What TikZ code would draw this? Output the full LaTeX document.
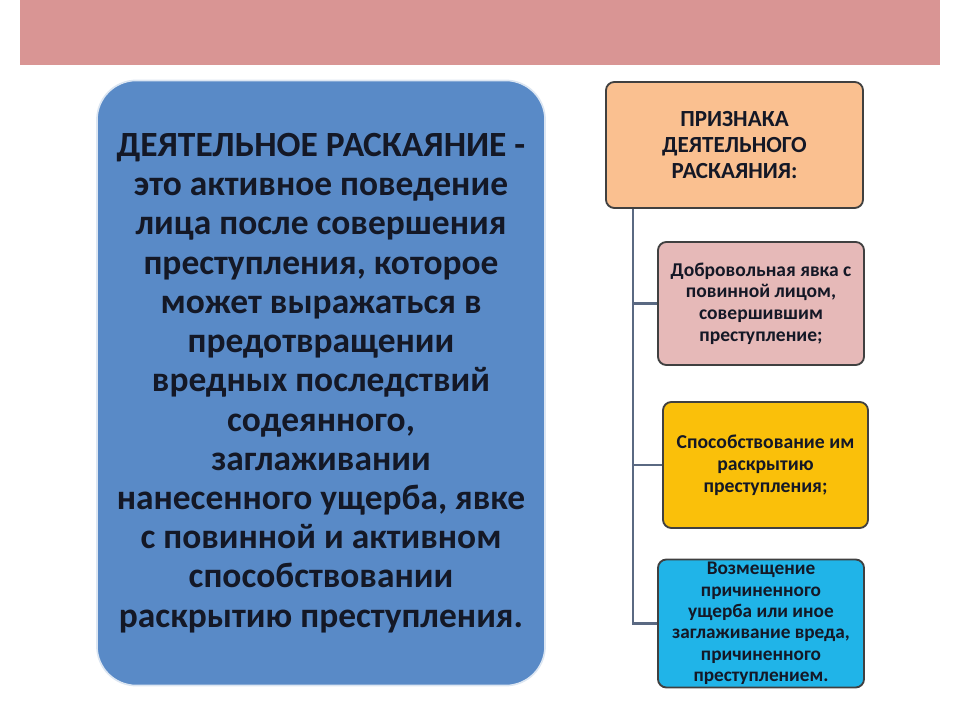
\documentclass[tikz,border=0pt]{standalone}
\usepackage{fontspec}
\setmainfont{Carlito}
\usetikzlibrary{calc}
\definecolor{bandpink}{RGB}{217,149,148}
\definecolor{mainblue}{RGB}{89,138,199}
\definecolor{mainrim}{RGB}{220,230,242}
\definecolor{headorange}{RGB}{250,192,144}
\definecolor{itempink}{RGB}{230,185,184}
\definecolor{itemyellow}{RGB}{250,192,10}
\definecolor{itemcyan}{RGB}{32,180,232}
\definecolor{inkdark}{RGB}{20,24,38}
\definecolor{trunkgray}{RGB}{90,105,130}
\tikzset{
  sign/.style={draw=black!75,line width=1.3pt,rounded corners=6pt,align=center,
    font=\bfseries\fontsize{14}{15.6}\selectfont,text=inkdark,inner sep=2pt},
  trunk/.style={trunkgray,line width=1.6pt}
}

\begin{document}
\begin{tikzpicture}[x=0.025cm,y=-0.025cm]
\useasboundingbox (0,0) rectangle (960,720);
\fill[bandpink] (20,0) rectangle (940,65);

\node[fill=mainblue,draw=mainrim,line width=1.2pt,rounded corners=28pt,
  minimum width=11.2cm,minimum height=15.125cm,align=center,text=inkdark,
  font=\bfseries\fontsize{25.2}{27.9}\selectfont] (defn) at (321,383)
  {ДЕЯТЕЛЬНОЕ РАСКАЯНИЕ -\\ это активное поведение\\ лица после совершения\\
   преступления, которое\\ может выражаться в\\ предотвращении\\
   вредных последствий\\ содеянного,\\ заглаживании\\
   нанесенного ущерба, явке\\ с повинной и активном\\ способствовании\\
   раскрытию преступления.};

\node[sign,fill=headorange,minimum width=6.425cm,minimum height=3.15cm,
  font=\bfseries\fontsize{16.4}{18.5}\selectfont] (head) at (734.5,145)
  {ПРИЗНАКА\\ ДЕЯТЕЛЬНОГО\\ РАСКАЯНИЯ:};
\node[sign,fill=itempink,minimum width=5.15cm,minimum height=3.075cm,
  font=\bfseries\fontsize{13.9}{15.4}\selectfont] (surrender) at (761,303.5)
  {Добровольная явка с\\ повинной лицом,\\ совершившим\\ преступление;};
\node[sign,fill=itemyellow,minimum width=5.125cm,minimum height=3.15cm] (assist) at (765.5,465)
  {Способствование им\\ раскрытию\\ преступления;};
\node[sign,fill=itemcyan,minimum width=5.15cm,minimum height=3.175cm,
  font=\bfseries\fontsize{13.7}{15.2}\selectfont] (repair) at (761,623.5)
  {Возмещение\\ причиненного\\ ущерба или иное\\ заглаживание вреда,\\
   причиненного\\ преступлением.};

\coordinate (root) at (head.south -| 633,0);
\draw[trunk] (root) |- (repair.west);
\foreach \b in {surrender,assist}
  \draw[trunk] (root |- \b.west) -- (\b.west);
\end{tikzpicture}
\end{document}
